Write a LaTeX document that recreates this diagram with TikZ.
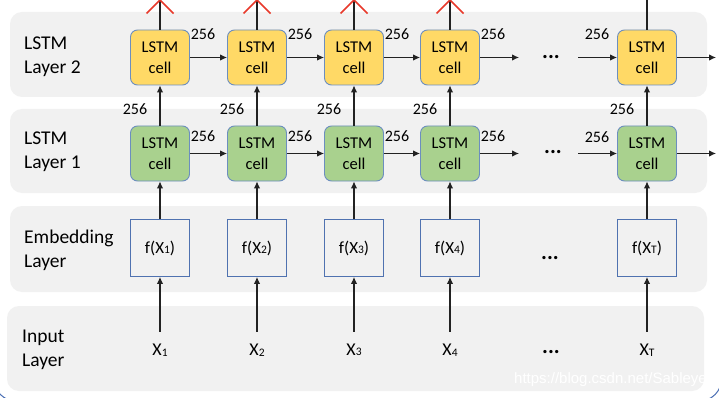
\documentclass[tikz,border=0pt]{standalone}
\usepackage{fontspec}
\setmainfont{Carlito}
\newfontfamily\wmfont{Liberation Sans}
\usetikzlibrary{arrows.meta}
\definecolor{bandbg}{HTML}{F1F1F1}
\definecolor{cellyel}{HTML}{FFD966}
\definecolor{cellgrn}{HTML}{A9D18E}
\definecolor{cellbd}{HTML}{6C8EBF}
\definecolor{embbd}{HTML}{4F72B0}
\definecolor{redx}{HTML}{E8392B}
\definecolor{linec}{HTML}{222222}
\definecolor{framec}{HTML}{4A6FB5}
\newcommand{\sbx}[1]{\raisebox{-0.5pt}{\fontsize{11.5}{11.5}\selectfont #1}}
\begin{document}
\begin{tikzpicture}[x=1pt,y=-1pt,
 band/.style={fill=bandbg, rounded corners=12pt, draw=none},
 lstm/.style={draw=cellbd, line width=0.9pt, rounded corners=7pt, minimum width=59pt, minimum height=55pt, inner sep=0pt, align=center, font=\fontsize{16.5}{21}\selectfont},
 l2cell/.style={lstm, fill=cellyel},
 l1cell/.style={lstm, fill=cellgrn},
 embbox/.style={draw=embbd, line width=0.9pt, fill=bandbg, minimum width=59pt, minimum height=57pt, inner sep=0pt, font=\fontsize{17}{18}\selectfont},
 layerlbl/.style={anchor=west, align=left, inner sep=0pt, font=\fontsize{19.5}{24}\selectfont},
 num/.style={inner sep=0pt, font=\fontsize{16}{16}\selectfont},
 dots/.style={inner sep=0pt, font=\fontsize{22}{22}\selectfont\bfseries},
 xin/.style={inner sep=0pt, font=\fontsize{18}{18}\selectfont},
 conn/.style={draw=linec, line width=1.1pt},
 arr/.style={conn, -{Latex[length=7pt,width=6.5pt]}},
 redmark/.style={draw=redx, line width=1.5pt}
]
\useasboundingbox (0,0) rectangle (719,398);
\fill[white] (0,0) rectangle (719,398);
% bands
\fill[band] (10,12) rectangle (707,97);
\fill[band] (10,109) rectangle (707,193);
\fill[band] (10,206) rectangle (707,292);
\fill[band] (7,306) rectangle (704,391);
% layer labels
\node[layerlbl] (lbl2) at (24,57) {LSTM\\Layer 2};
\node[layerlbl] (lbl1) at (24,152) {LSTM\\Layer 1};
\node[layerlbl] (lble) at (24,250) {Embedding\\Layer};
\node[layerlbl] (lbli) at (22,350) {Input\\Layer};
% columns
\foreach \i/\x/\s in {1/160/1,2/257/2,3/354/3,4/450/4,5/647/T}{
  \node[xin] (x\i) at (\x,350) {X\sbx{\s}};
  \node[embbox] (e\i) at (\x,248) {f(X\sbx{\s})};
  \node[l1cell] (a\i) at (\x,153.5) {LSTM\\cell};
  \node[l2cell] (b\i) at (\x,57.5) {LSTM\\cell};
  \coordinate (t\i) at (\x,0);
  \node[num] (v\i) at (\x-25,109) {256};
  \draw[arr, shorten <=12pt] (x\i.north) -- (e\i.south);
  \draw[arr] (e\i.north) -- (a\i.south);
  \draw[arr] (a\i.north) -- (b\i.south);
  \draw[conn] (b\i.north) -- (t\i);
}
% horizontal labels
\foreach \i/\x in {1/160,2/257,3/354,4/450}{
  \node[num] (hb\i) at (\x+43,34) {256};
  \node[num] (ha\i) at (\x+43,136) {256};
}
\node[num] (hb5) at (597,34) {256};
\node[num] (ha5) at (597,137) {256};
% horizontal arrows
\foreach \i/\j in {1/2,2/3,3/4}{
  \draw[arr] (b\i) -- (b\j);
  \draw[arr] (a\i) -- (a\j);
}
\coordinate (b4r) at (519,57.5);
\coordinate (b5l) at (578,57.5);
\coordinate (b5r) at (716,57.5);
\coordinate (a4r) at (519,153.5);
\coordinate (a5l) at (578,153.5);
\coordinate (a5r) at (716,153.5);
\draw[arr] (b4.east) -- (b4r);
\draw[arr] (b5l) -- (b5.west);
\draw[arr] (b5.east) -- (b5r);
\draw[arr] (a4.east) -- (a4r);
\draw[arr] (a5l) -- (a5.west);
\draw[arr] (a5.east) -- (a5r);
% dots
\node[dots] (d2) at (551,57) {...};
\node[dots] (d1) at (553,152) {...};
\node[dots] (de) at (550,258) {...};
\node[dots] (di) at (551,352) {...};
% red marks and frame
\begin{scope}
\clip (0,0) rectangle (719,398);
\foreach \x in {160,257,354,450}{
  \draw[redmark] (\x-13.5,13.5) -- (\x+2,-2);
  \draw[redmark] (\x+13.5,13.5) -- (\x-2,-2);
}
\draw[framec, line width=1pt, rounded corners=22pt] (-6,-20) rectangle (721.5,401);
\end{scope}
% watermark
\node[font=\wmfont\fontsize{15}{15}\selectfont, text=white, anchor=east, inner sep=0pt] (wm) at (707,380) {https://blog.csdn.net/Sableye};
\end{tikzpicture}
\end{document}
